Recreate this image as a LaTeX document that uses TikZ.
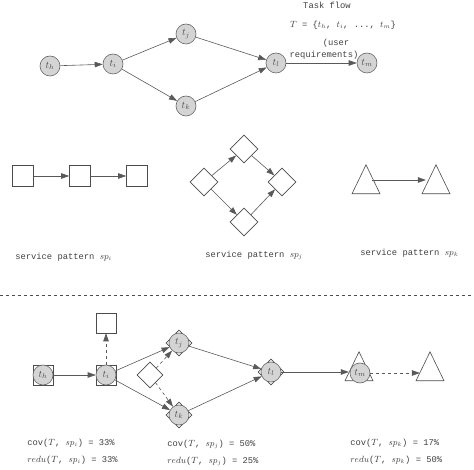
\documentclass[tikz,border=0pt]{standalone}
\usepackage{fontspec}
\setmonofont{Liberation Mono}
\usetikzlibrary{arrows.meta,shapes.geometric}
\begin{document}
\begin{tikzpicture}[x=1pt,y=-1pt,line width=0.6pt,
    task/.style={circle,draw=black!60,fill=black!17,minimum size=20pt,inner sep=0pt,text=black!70},
    sq/.style={rectangle,draw=black!70,fill=white,minimum size=#1,inner sep=0pt},
    sq/.default=21pt,
    dia/.style={diamond,draw=black!70,fill=white,minimum size=#1,inner sep=0pt},
    dia/.default=28pt,
    tri/.style={isosceles triangle,shape border rotate=90,isosceles triangle stretches,
        minimum width=28pt,minimum height=29pt,draw=black!70,fill=white,inner sep=0pt},
    lab/.style={font=\ttfamily\fontsize{8.8}{10}\selectfont,text=black!75,inner sep=0pt},
    flow/.style={draw=black!65,-{Triangle[length=8pt,width=5.5pt]}},
    dflow/.style={flow,dashed}]
    \useasboundingbox (0,0) rectangle (474,470);
    \node[task](th) at (50,66){$t_h$};
    \node[task](ti) at (113,64){$t_i$};
    \node[task](tj) at (186,34){$t_j$};
    \node[task](tk) at (186,106){$t_k$};
    \node[task](tl) at (276,63){$t_l$};
    \node[task](tm) at (367,63){$t_m$};
    \draw[flow] (th) -- (ti);
    \draw[flow] (ti) -- (tj);
    \draw[flow] (ti) -- (tk);
    \draw[flow] (tj) -- (tl);
    \draw[flow] (tk) -- (tl);
    \draw[flow] (tl) -- (tm);
    \node[lab](title) at (327,5){Task flow};
    \node[lab](tset) at (343,25){$T$ = \{$t_h$, $t_i$, ..., $t_m$\}};
    \node[lab](user) at (336,43){(user};
    \node[lab](req) at (324,55){requirements)};
    \node[sq](a1) at (23,176){};
    \node[sq](a2) at (80,176){};
    \node[sq](a3) at (137,176){};
    \draw[flow] (a1) -- (a2);
    \draw[flow] (a2) -- (a3);
    \node[dia](b1) at (204,182){};
    \node[dia](b2) at (244,149){};
    \node[dia](b3) at (282,182){};
    \node[dia](b4) at (244,222){};
    \draw[flow] (b1) -- (b2);
    \draw[flow] (b1) -- (b4);
    \draw[flow] (b2) -- (b3);
    \draw[flow] (b4) -- (b3);
    \node[tri](c1) at (366,185){};
    \node[tri](c2) at (436,185){};
    \draw[flow] (c1.east) ++(-4,-5) coordinate(c1e) (c1e) -- (c2.west|-c1e);
    \node[lab,anchor=west](pi) at (15,257){service pattern $sp_i$};
    \node[lab,anchor=west](pj) at (205,255){service pattern $sp_j$};
    \node[lab,anchor=west](pk) at (360,253){service pattern $sp_k$};
    \draw[black!70,dashed,line width=0.9pt] (0,295) -- (474,295);
    \node[sq=20pt](sh) at (43,375){};
    \node[sq=20pt](si) at (106,375){};
    \node[dia=26pt](dj) at (179,343){};
    \node[dia=26pt](dk) at (179,415){};
    \node[dia=26pt](dl) at (271,372){};
    \node[tri](em) at (359,372){};
    \node[task](uh) at (43,375){$t_h$};
    \node[task](ui) at (106,375){$t_i$};
    \node[task](uj) at (179,343){$t_j$};
    \node[task](uk) at (179,415){$t_k$};
    \node[task](ul) at (271,372){$t_l$};
    \node[task](um) at (360,373){$t_m$};
    \node[sq=20pt](xi) at (106,323){};
    \node[dia=26pt](xj) at (150,375){};
    \node[tri](xm) at (430,372){};
    \draw[flow] (uh) -- (ui);
    \draw[flow] (ui) -- (uj);
    \draw[flow] (ui) -- (uk);
    \draw[flow] (uj) -- (ul);
    \draw[flow] (uk) -- (ul);
    \draw[flow] (ul) -- (em);
    \draw[dflow] (ui) -- (xi);
    \draw[dflow] (xj) -- (uj);
    \draw[dflow] (xj) -- (uk);
    \draw[dflow] (um) -- (xm.west|-um);
    \node[lab,anchor=west](ci) at (27,443){cov($T$, $sp_i$) = 33\%};
    \node[lab,anchor=west](ri) at (27,460){$redu$($T$, $sp_i$) = 33\%};
    \node[lab,anchor=west](cj) at (167,444){cov($T$, $sp_j$) = 50\%};
    \node[lab,anchor=west](rj) at (167,461){$redu$($T$, $sp_j$) = 25\%};
    \node[lab,anchor=west](ck) at (350,443){cov($T$, $sp_k$) = 17\%};
    \node[lab,anchor=west](rk) at (350,460){$redu$($T$, $sp_k$) = 50\%};
\end{tikzpicture}
\end{document}
